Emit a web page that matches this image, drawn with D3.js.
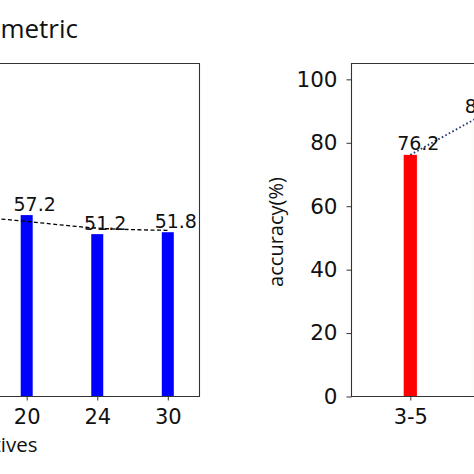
<!DOCTYPE html>
<html>
<head>
<meta charset="utf-8">
<script src="https://cdn.jsdelivr.net/npm/d3@7"></script>
<style>
  html, body { margin: 0; padding: 0; background: #fff; }
  svg { display: block; }
</style>
</head>
<body>
<svg id="chart" width="474" height="474"></svg>
<script>
// ---- data ----
const titleText = "metric";
const leftXLabel = "number of negatives";
const rightYLabel = "accuracy(%)";

const leftCats = ["20", "24", "30"];
const leftBars = [57.2, 51.2, 51.8];
// dashed trend line (first point belongs to the category just left of the crop)
const leftTrendIdx = [-1, 0, 1, 2];
const leftTrend = [57.3, 55.2, 53.1, 52.4];

const rightCats = ["3-5", ""];
const rightBars = [76.2, 88.0];

const yTicks = [0, 20, 40, 60, 80, 100];
const yMax = 105;

// ---- layout ----
const svg = d3.select("#chart");
const plotTop = 63.5, plotBottom = 396.5;
const leftRight = 199.5;          // right spine of left panel
const rightLeft = 351.5;          // left spine of right panel

const y = d3.scaleLinear().domain([0, yMax]).range([plotBottom, plotTop]);
const xL = d3.scaleLinear().domain([0, 2]).range([26.7, 167.8]);
const xR = d3.scaleLinear().domain([0, 1]).range([410.3, 478]);

const tickFont = "'DejaVu Sans', sans-serif";
const labFont = "'Open Sans', sans-serif";

// ---- left panel ----
const gL = svg.append("g");
gL.selectAll("rect.bar").data(leftBars).join("rect")
  .attr("x", (d, i) => xL(i) - 6)
  .attr("width", 12)
  .attr("y", d => y(d))
  .attr("height", d => y(0) - y(d))
  .attr("fill", "#0000ff");
const lineL = d3.line()
  .x((d, i) => xL(leftTrendIdx[i]))
  .y(d => y(d))
  .curve(d3.curveMonotoneX);
gL.append("path").datum(leftTrend)
  .attr("d", lineL)
  .attr("fill", "none")
  .attr("stroke", "#000")
  .attr("stroke-width", 1.3)
  .attr("stroke-dasharray", "4,2.5");
gL.selectAll("text.val").data(leftBars).join("text")
  .attr("x", (d, i) => xL(i) + 8)
  .attr("y", d => y(d) - 4.5)
  .attr("text-anchor", "middle")
  .attr("font-family", tickFont)
  .attr("font-size", 19)
  .attr("fill", "#111")
  .text(d => d.toFixed(1));
gL.append("path")
  .attr("d", `M-2,${plotTop}H${leftRight}V${plotBottom}H-2`)
  .attr("fill", "none").attr("stroke", "#333").attr("stroke-width", 1.1);
const axL = d3.axisBottom(xL).tickValues([0, 1, 2])
  .tickFormat(i => leftCats[i]).tickSize(4).tickPadding(9);
gL.append("g").attr("transform", `translate(0,${plotBottom})`).call(axL)
  .call(g => g.select(".domain").remove())
  .call(g => g.selectAll("line").attr("stroke", "#333"))
  .call(g => g.selectAll("text").attr("font-family", tickFont).attr("font-size", 21).attr("fill", "#111"));
gL.append("text")
  .attr("x", 37.5).attr("y", 452)
  .attr("text-anchor", "end")
  .attr("font-family", labFont).attr("font-size", 20.5).attr("fill", "#111")
  .text(leftXLabel);
svg.append("text")
  .attr("x", 78).attr("y", 37.5)
  .attr("text-anchor", "end")
  .attr("font-family", labFont).attr("font-size", 26).attr("fill", "#111")
  .text(titleText);

// ---- right panel ----
const gR = svg.append("g");
gR.selectAll("rect.bar").data(rightBars).join("rect")
  .attr("x", (d, i) => xR(i) - 6.6)
  .attr("width", 13.2)
  .attr("y", d => y(d))
  .attr("height", d => y(0) - y(d))
  .attr("fill", (d, i) => i === 0 ? "#ff0000" : "#fefaf8");
const lineR = d3.line().x((d, i) => xR(i)).y(d => y(d));
gR.append("path").datum(rightBars)
  .attr("d", lineR)
  .attr("fill", "none")
  .attr("stroke", "#22386a")
  .attr("stroke-width", 1.8)
  .attr("stroke-dasharray", "1.6,2.4");
gR.selectAll("text.val").data(rightBars).join("text")
  .attr("x", (d, i) => xR(i) + 8)
  .attr("y", d => y(d) - 4.5)
  .attr("text-anchor", "middle")
  .attr("font-family", tickFont)
  .attr("font-size", 19)
  .attr("fill", "#111")
  .text(d => d.toFixed(1));
gR.append("path")
  .attr("d", `M480,${plotTop}H${rightLeft}V${plotBottom}H480`)
  .attr("fill", "none").attr("stroke", "#333").attr("stroke-width", 1.1);
const ayR = d3.axisLeft(y).tickValues(yTicks).tickSize(5).tickPadding(9);
gR.append("g").attr("transform", `translate(${rightLeft},0)`).call(ayR)
  .call(g => g.select(".domain").remove())
  .call(g => g.selectAll("line").attr("stroke", "#333"))
  .call(g => g.selectAll("text").attr("font-family", tickFont).attr("font-size", 21.5).attr("fill", "#111"));
const axR = d3.axisBottom(xR).tickValues([0])
  .tickFormat(i => rightCats[i]).tickSize(4).tickPadding(9);
gR.append("g").attr("transform", `translate(0,${plotBottom})`).call(axR)
  .call(g => g.select(".domain").remove())
  .call(g => g.selectAll("line").attr("stroke", "#333"))
  .call(g => g.selectAll("text").attr("font-family", tickFont).attr("font-size", 21).attr("fill", "#111"));
gR.append("text")
  .attr("transform", `translate(283,232) rotate(-90)`)
  .attr("text-anchor", "middle")
  .attr("font-family", labFont).attr("font-size", 20).attr("fill", "#111")
  .text(rightYLabel);
</script>
</body>
</html>
